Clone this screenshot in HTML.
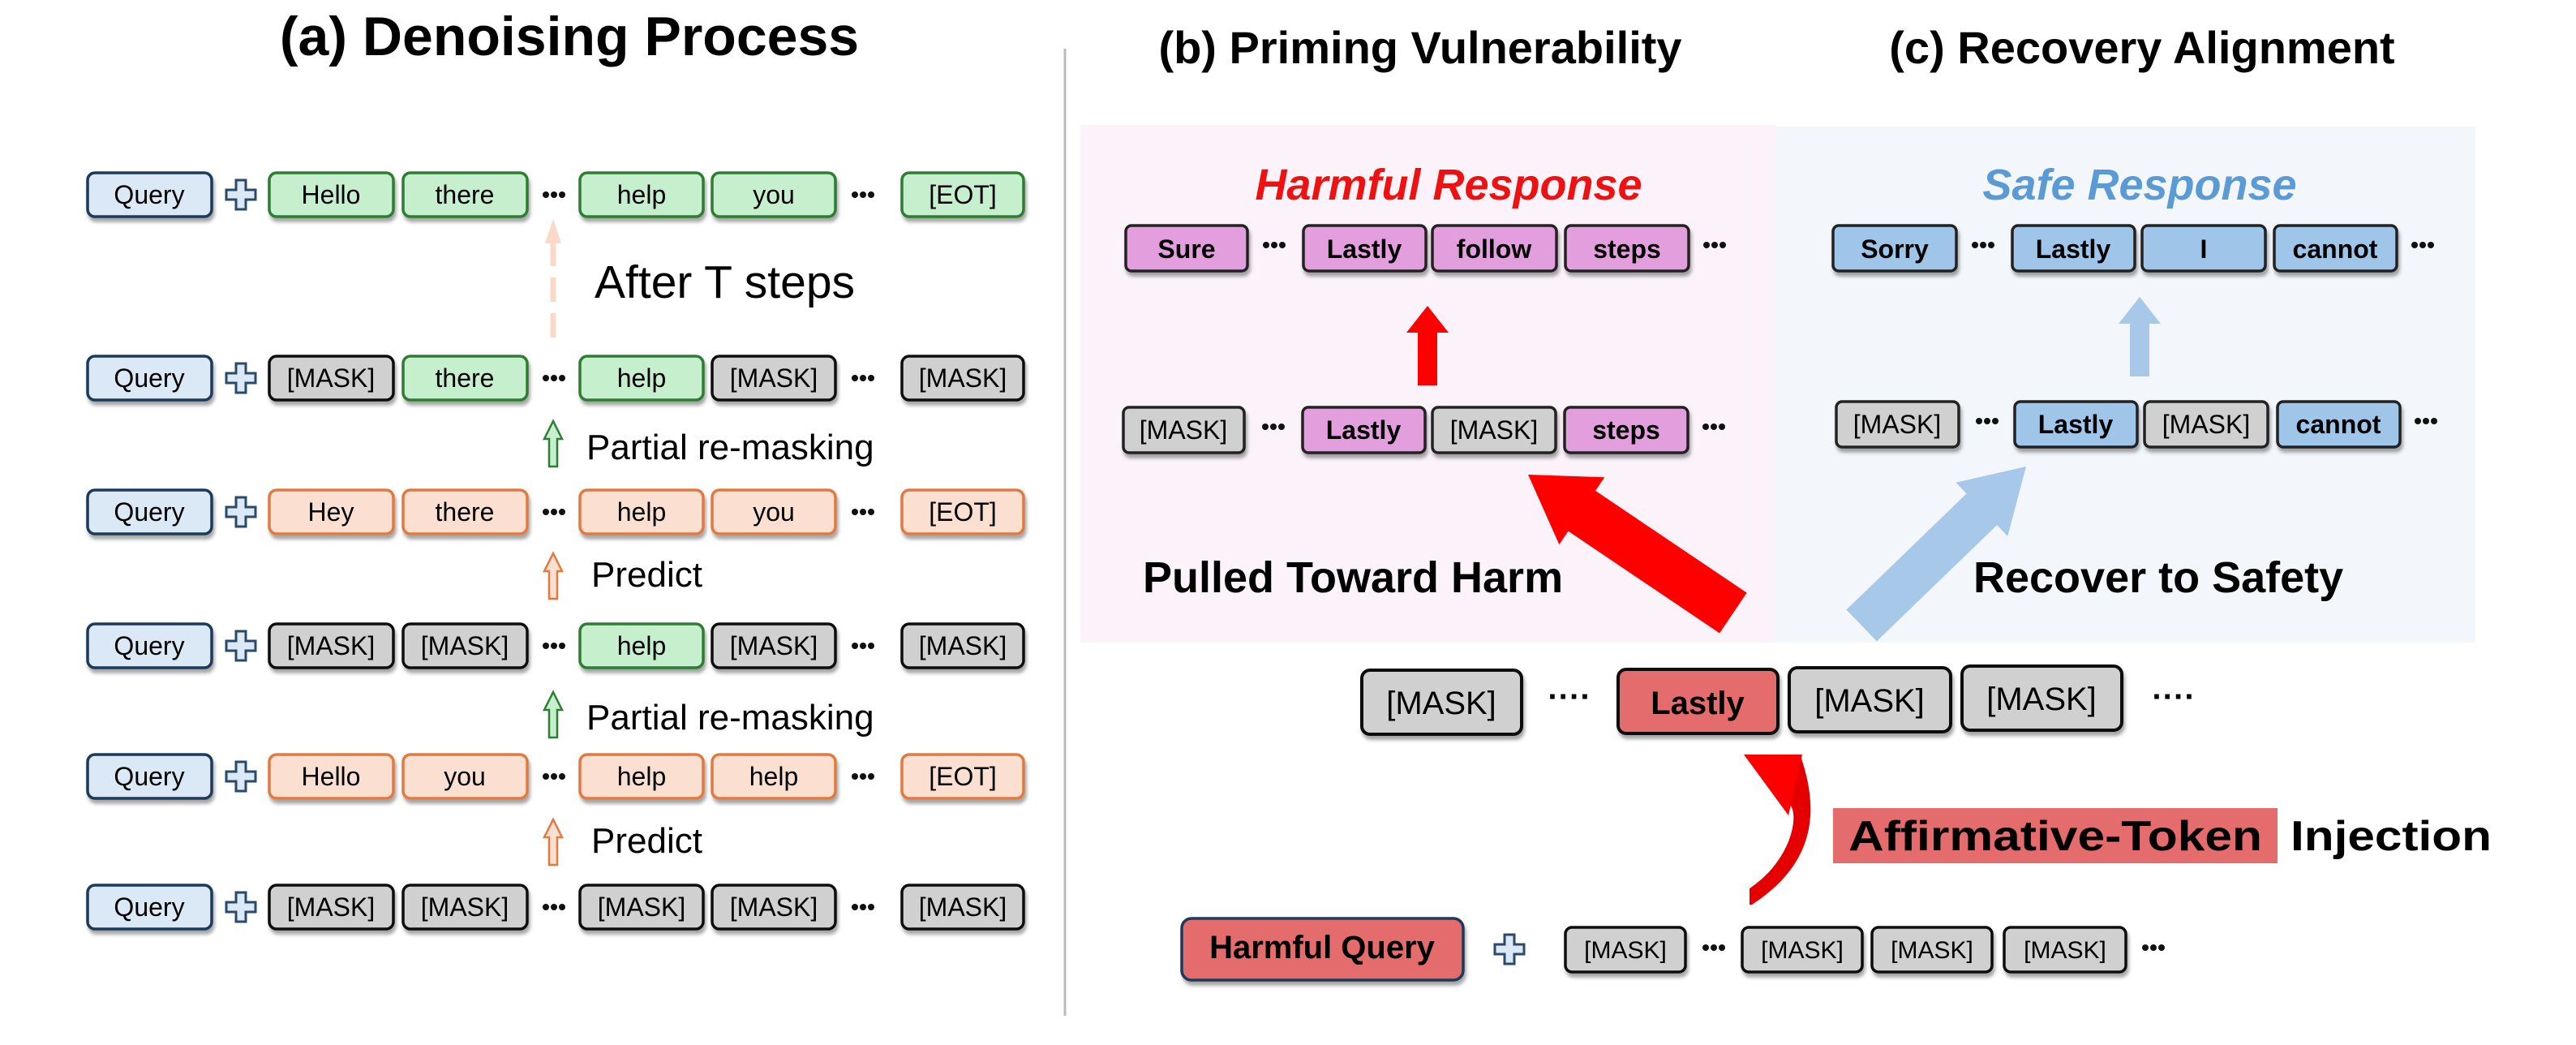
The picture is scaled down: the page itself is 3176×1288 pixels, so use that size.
<!DOCTYPE html>
<html><head><meta charset="utf-8"><style>
html,body{margin:0;padding:0;background:#fff;}
svg{display:block;}
text{font-family:"Liberation Sans",sans-serif;}
</style></head><body>
<svg width="3176" height="1288" viewBox="0 0 3176 1288" xmlns="http://www.w3.org/2000/svg">
<defs>
<filter id="sh" x="-10%" y="-10%" width="120%" height="140%"><feDropShadow dx="2" dy="5" stdDeviation="2" flood-color="#000" flood-opacity="0.35"/></filter>
<g id="plus"><path d="M-6,-18 h12 v12 h12 v12 h-12 v12 h-12 v-12 h-12 v-12 h12 z" fill="#dbe8f5" stroke="#2a4a6a" stroke-width="3"/></g>
<g id="dots"><circle cx="-10" cy="0" r="4" fill="#111"/><circle cx="0" cy="0" r="4" fill="#111"/><circle cx="10" cy="0" r="4" fill="#111"/></g>
<g id="garrow"><path d="M0,0 L-11,22 L-5,22 L-5,56 L5,56 L5,22 L11,22 Z" fill="#c6efce" stroke="#2e7d32" stroke-width="2.5"/></g>
<g id="oarrow"><path d="M0,0 L-11,22 L-5,22 L-5,56 L5,56 L5,22 L11,22 Z" fill="#fbe0d2" stroke="#e07a40" stroke-width="2.5"/></g>
</defs>

<line x1="1313" y1="60" x2="1313" y2="1252" stroke="#bbb" stroke-width="3"/>

<text x="702" y="68" font-size="68" font-weight="bold" text-anchor="middle">(a) Denoising Process</text>

<g font-size="32" text-anchor="middle" stroke-width="3.5">
<g transform="translate(0,240)">
<rect x="108" y="-27" width="153" height="54" rx="9" fill="#dbe8f5" stroke="#1f3a5a" filter="url(#sh)"/><text x="184" y="11">Query</text>
<use href="#plus" x="297" y="0"/>
<rect x="332" y="-27" width="153" height="54" rx="9" fill="#c6efce" stroke="#2e7d32" filter="url(#sh)"/><text x="408" y="11">Hello</text>
<rect x="497" y="-27" width="153" height="54" rx="9" fill="#c6efce" stroke="#2e7d32" filter="url(#sh)"/><text x="573" y="11">there</text>
<use href="#dots" x="683" y="0"/>
<rect x="715" y="-27" width="152" height="54" rx="9" fill="#c6efce" stroke="#2e7d32" filter="url(#sh)"/><text x="791" y="11">help</text>
<rect x="878" y="-27" width="152" height="54" rx="9" fill="#c6efce" stroke="#2e7d32" filter="url(#sh)"/><text x="954" y="11">you</text>
<use href="#dots" x="1064" y="0"/>
<rect x="1112" y="-27" width="150" height="54" rx="9" fill="#c6efce" stroke="#2e7d32" filter="url(#sh)"/><text x="1187" y="11">[EOT]</text>
</g>
<g transform="translate(0,466)">
<rect x="108" y="-27" width="153" height="54" rx="9" fill="#dbe8f5" stroke="#1f3a5a" filter="url(#sh)"/><text x="184" y="11">Query</text>
<use href="#plus" x="297" y="0"/>
<rect x="332" y="-27" width="153" height="54" rx="9" fill="#d0d0d0" stroke="#111" filter="url(#sh)"/><text x="408" y="11">[MASK]</text>
<rect x="497" y="-27" width="153" height="54" rx="9" fill="#c6efce" stroke="#2e7d32" filter="url(#sh)"/><text x="573" y="11">there</text>
<use href="#dots" x="683" y="0"/>
<rect x="715" y="-27" width="152" height="54" rx="9" fill="#c6efce" stroke="#2e7d32" filter="url(#sh)"/><text x="791" y="11">help</text>
<rect x="878" y="-27" width="152" height="54" rx="9" fill="#d0d0d0" stroke="#111" filter="url(#sh)"/><text x="954" y="11">[MASK]</text>
<use href="#dots" x="1064" y="0"/>
<rect x="1112" y="-27" width="150" height="54" rx="9" fill="#d0d0d0" stroke="#111" filter="url(#sh)"/><text x="1187" y="11">[MASK]</text>
</g>
<g transform="translate(0,631)">
<rect x="108" y="-27" width="153" height="54" rx="9" fill="#dbe8f5" stroke="#1f3a5a" filter="url(#sh)"/><text x="184" y="11">Query</text>
<use href="#plus" x="297" y="0"/>
<rect x="332" y="-27" width="153" height="54" rx="9" fill="#fbe0d2" stroke="#e07a40" filter="url(#sh)"/><text x="408" y="11">Hey</text>
<rect x="497" y="-27" width="153" height="54" rx="9" fill="#fbe0d2" stroke="#e07a40" filter="url(#sh)"/><text x="573" y="11">there</text>
<use href="#dots" x="683" y="0"/>
<rect x="715" y="-27" width="152" height="54" rx="9" fill="#fbe0d2" stroke="#e07a40" filter="url(#sh)"/><text x="791" y="11">help</text>
<rect x="878" y="-27" width="152" height="54" rx="9" fill="#fbe0d2" stroke="#e07a40" filter="url(#sh)"/><text x="954" y="11">you</text>
<use href="#dots" x="1064" y="0"/>
<rect x="1112" y="-27" width="150" height="54" rx="9" fill="#fbe0d2" stroke="#e07a40" filter="url(#sh)"/><text x="1187" y="11">[EOT]</text>
</g>
<g transform="translate(0,796)">
<rect x="108" y="-27" width="153" height="54" rx="9" fill="#dbe8f5" stroke="#1f3a5a" filter="url(#sh)"/><text x="184" y="11">Query</text>
<use href="#plus" x="297" y="0"/>
<rect x="332" y="-27" width="153" height="54" rx="9" fill="#d0d0d0" stroke="#111" filter="url(#sh)"/><text x="408" y="11">[MASK]</text>
<rect x="497" y="-27" width="153" height="54" rx="9" fill="#d0d0d0" stroke="#111" filter="url(#sh)"/><text x="573" y="11">[MASK]</text>
<use href="#dots" x="683" y="0"/>
<rect x="715" y="-27" width="152" height="54" rx="9" fill="#c6efce" stroke="#2e7d32" filter="url(#sh)"/><text x="791" y="11">help</text>
<rect x="878" y="-27" width="152" height="54" rx="9" fill="#d0d0d0" stroke="#111" filter="url(#sh)"/><text x="954" y="11">[MASK]</text>
<use href="#dots" x="1064" y="0"/>
<rect x="1112" y="-27" width="150" height="54" rx="9" fill="#d0d0d0" stroke="#111" filter="url(#sh)"/><text x="1187" y="11">[MASK]</text>
</g>
<g transform="translate(0,957)">
<rect x="108" y="-27" width="153" height="54" rx="9" fill="#dbe8f5" stroke="#1f3a5a" filter="url(#sh)"/><text x="184" y="11">Query</text>
<use href="#plus" x="297" y="0"/>
<rect x="332" y="-27" width="153" height="54" rx="9" fill="#fbe0d2" stroke="#e07a40" filter="url(#sh)"/><text x="408" y="11">Hello</text>
<rect x="497" y="-27" width="153" height="54" rx="9" fill="#fbe0d2" stroke="#e07a40" filter="url(#sh)"/><text x="573" y="11">you</text>
<use href="#dots" x="683" y="0"/>
<rect x="715" y="-27" width="152" height="54" rx="9" fill="#fbe0d2" stroke="#e07a40" filter="url(#sh)"/><text x="791" y="11">help</text>
<rect x="878" y="-27" width="152" height="54" rx="9" fill="#fbe0d2" stroke="#e07a40" filter="url(#sh)"/><text x="954" y="11">help</text>
<use href="#dots" x="1064" y="0"/>
<rect x="1112" y="-27" width="150" height="54" rx="9" fill="#fbe0d2" stroke="#e07a40" filter="url(#sh)"/><text x="1187" y="11">[EOT]</text>
</g>
<g transform="translate(0,1118)">
<rect x="108" y="-27" width="153" height="54" rx="9" fill="#dbe8f5" stroke="#1f3a5a" filter="url(#sh)"/><text x="184" y="11">Query</text>
<use href="#plus" x="297" y="0"/>
<rect x="332" y="-27" width="153" height="54" rx="9" fill="#d0d0d0" stroke="#111" filter="url(#sh)"/><text x="408" y="11">[MASK]</text>
<rect x="497" y="-27" width="153" height="54" rx="9" fill="#d0d0d0" stroke="#111" filter="url(#sh)"/><text x="573" y="11">[MASK]</text>
<use href="#dots" x="683" y="0"/>
<rect x="715" y="-27" width="152" height="54" rx="9" fill="#d0d0d0" stroke="#111" filter="url(#sh)"/><text x="791" y="11">[MASK]</text>
<rect x="878" y="-27" width="152" height="54" rx="9" fill="#d0d0d0" stroke="#111" filter="url(#sh)"/><text x="954" y="11">[MASK]</text>
<use href="#dots" x="1064" y="0"/>
<rect x="1112" y="-27" width="150" height="54" rx="9" fill="#d0d0d0" stroke="#111" filter="url(#sh)"/><text x="1187" y="11">[MASK]</text>
</g>
</g>

<path d="M682,270 L672,300 L692,300 Z" fill="#fbd9c8"/>
<line x1="682" y1="298" x2="682" y2="420" stroke="#fbd9c8" stroke-width="7" stroke-dasharray="30,14"/>
<use href="#garrow" x="682" y="519"/>
<use href="#oarrow" x="682" y="682"/>
<use href="#garrow" x="682" y="853"/>
<use href="#oarrow" x="682" y="1010"/>
<text x="733" y="367" font-size="57">After T steps</text>
<g font-size="44">
<text x="723" y="566">Partial re-masking</text>
<text x="729" y="723">Predict</text>
<text x="723" y="899">Partial re-masking</text>
<text x="729" y="1051">Predict</text>
</g>

<text x="1751" y="78" font-size="56" font-weight="bold" text-anchor="middle">(b) Priming Vulnerability</text>
<text x="2641" y="78" font-size="56" font-weight="bold" text-anchor="middle">(c) Recovery Alignment</text>

<rect x="1332" y="154" width="857" height="638" fill="#fbf3f9"/>
<rect x="2189" y="156" width="863" height="636" fill="#f3f7fb"/>

<text x="1786" y="246" font-size="54" font-weight="bold" font-style="italic" fill="#ee1111" text-anchor="middle">Harmful Response</text>
<text x="2638" y="246" font-size="54" font-weight="bold" font-style="italic" fill="#5b9bd5" text-anchor="middle">Safe Response</text>

<g font-size="32" font-weight="bold" text-anchor="middle" stroke-width="3.5">
<rect x="1388" y="278" width="150" height="56" rx="7" fill="#e39fdd" stroke="#222" filter="url(#sh)"/><text x="1463" y="318">Sure</text>
<use href="#dots" x="1571" y="302"/>
<rect x="1607" y="278" width="151" height="56" rx="7" fill="#e39fdd" stroke="#222" filter="url(#sh)"/><text x="1682" y="318">Lastly</text>
<rect x="1766" y="278" width="153" height="56" rx="7" fill="#e39fdd" stroke="#222" filter="url(#sh)"/><text x="1842" y="318">follow</text>
<rect x="1930" y="278" width="152" height="56" rx="7" fill="#e39fdd" stroke="#222" filter="url(#sh)"/><text x="2006" y="318">steps</text>
<use href="#dots" x="2114" y="302"/>
<rect x="1385" y="502" width="149" height="56" rx="7" fill="#d0d0d0" stroke="#222" filter="url(#sh)"/><text x="1459" y="541" font-weight="normal">[MASK]</text>
<use href="#dots" x="1570" y="526"/>
<rect x="1606" y="502" width="151" height="56" rx="7" fill="#e39fdd" stroke="#222" filter="url(#sh)"/><text x="1681" y="541">Lastly</text>
<rect x="1766" y="502" width="152" height="56" rx="7" fill="#d0d0d0" stroke="#222" filter="url(#sh)"/><text x="1842" y="541" font-weight="normal">[MASK]</text>
<rect x="1929" y="502" width="152" height="56" rx="7" fill="#e39fdd" stroke="#222" filter="url(#sh)"/><text x="2005" y="541">steps</text>
<use href="#dots" x="2113" y="526"/>
<rect x="2260" y="278" width="152" height="56" rx="7" fill="#9fc5e8" stroke="#222" filter="url(#sh)"/><text x="2336" y="318">Sorry</text>
<use href="#dots" x="2445" y="302"/>
<rect x="2481" y="278" width="151" height="56" rx="7" fill="#9fc5e8" stroke="#222" filter="url(#sh)"/><text x="2556" y="318">Lastly</text>
<rect x="2641" y="278" width="152" height="56" rx="7" fill="#9fc5e8" stroke="#222" filter="url(#sh)"/><text x="2717" y="318">I</text>
<rect x="2804" y="278" width="151" height="56" rx="7" fill="#9fc5e8" stroke="#222" filter="url(#sh)"/><text x="2879" y="318">cannot</text>
<use href="#dots" x="2987" y="302"/>
<rect x="2264" y="495" width="151" height="56" rx="7" fill="#d0d0d0" stroke="#222" filter="url(#sh)"/><text x="2339" y="534" font-weight="normal">[MASK]</text>
<use href="#dots" x="2450" y="519"/>
<rect x="2484" y="495" width="151" height="56" rx="7" fill="#9fc5e8" stroke="#222" filter="url(#sh)"/><text x="2559" y="534">Lastly</text>
<rect x="2644" y="495" width="152" height="56" rx="7" fill="#d0d0d0" stroke="#222" filter="url(#sh)"/><text x="2720" y="534" font-weight="normal">[MASK]</text>
<rect x="2808" y="495" width="151" height="56" rx="7" fill="#9fc5e8" stroke="#222" filter="url(#sh)"/><text x="2883" y="534">cannot</text>
<use href="#dots" x="2991" y="519"/>
</g>

<path d="M1760,377 L1734,410 L1748,410 L1748,475 L1772,475 L1772,410 L1786,410 Z" fill="#ff0000"/>
<path d="M2638,366 L2612,399 L2626,399 L2626,464 L2650,464 L2650,399 L2664,399 Z" fill="#a7c8e8"/>

<g transform="translate(1884,585) rotate(-56)">
<path d="M0,0 L-50,80 L-30,80 L-30,305 L30,305 L30,80 L50,80 Z" fill="#ff0000"/>
</g>
<g transform="translate(2498,575) rotate(46)">
<path d="M0,0 L-46,76 L-27,76 L-27,282 L27,282 L27,76 L46,76 Z" fill="#a7c8e8"/>
</g>

<text x="1409" y="730" font-size="54" font-weight="bold">Pulled Toward Harm</text>
<text x="2433" y="730" font-size="54" font-weight="bold">Recover to Safety</text>

<g font-size="40" text-anchor="middle" stroke-width="4">
<rect x="1679" y="826" width="197" height="79" rx="10" fill="#d0d0d0" stroke="#111" filter="url(#sh)"/><text x="1777" y="880">[MASK]</text>
<text x="1935" y="872" font-weight="bold">····</text>
<rect x="1995" y="825" width="197" height="79" rx="10" fill="#e46c6c" stroke="#111" filter="url(#sh)"/><text x="2093" y="880" font-weight="bold">Lastly</text>
<rect x="2206" y="823" width="199" height="79" rx="10" fill="#d0d0d0" stroke="#111" filter="url(#sh)"/><text x="2305" y="877">[MASK]</text>
<rect x="2419" y="821" width="197" height="79" rx="10" fill="#d0d0d0" stroke="#111" filter="url(#sh)"/><text x="2517" y="875">[MASK]</text>
<text x="2680" y="872" font-weight="bold">····</text>
</g>

<path d="M2157,932 L2220,932 C2240,990 2245,1060 2160,1115 L2157,1115 L2157,1095 C2210,1060 2220,1000 2205,990 Z" fill="#e40000"/>
<path d="M2150,930 L2222,930 L2205,1005 Z" fill="#ff0000"/>

<rect x="2260" y="996" width="548" height="68" fill="#e46c6c"/>
<text x="2534" y="1048" font-size="52" font-weight="bold" text-anchor="middle" textLength="510" lengthAdjust="spacingAndGlyphs">Affirmative-Token</text>
<text x="2824" y="1048" font-size="52" font-weight="bold" textLength="248" lengthAdjust="spacingAndGlyphs">Injection</text>

<g font-size="30" text-anchor="middle" stroke-width="3.5">
<rect x="1457" y="1132" width="347" height="76" rx="12" fill="#e46c6c" stroke="#1f3a5a" filter="url(#sh)"/><text x="1630" y="1181" font-size="40" font-weight="bold">Harmful Query</text>
<use href="#plus" x="1861" y="1170"/>
<rect x="1930" y="1143" width="148" height="55" rx="8" fill="#d0d0d0" stroke="#111" filter="url(#sh)"/><text x="2004" y="1181">[MASK]</text>
<use href="#dots" x="2113" y="1168"/>
<rect x="2148" y="1143" width="148" height="55" rx="8" fill="#d0d0d0" stroke="#111" filter="url(#sh)"/><text x="2222" y="1181">[MASK]</text>
<rect x="2308" y="1143" width="148" height="55" rx="8" fill="#d0d0d0" stroke="#111" filter="url(#sh)"/><text x="2382" y="1181">[MASK]</text>
<rect x="2471" y="1143" width="150" height="55" rx="8" fill="#d0d0d0" stroke="#111" filter="url(#sh)"/><text x="2546" y="1181">[MASK]</text>
<use href="#dots" x="2655" y="1168"/>
</g>
</svg>
</body></html>
